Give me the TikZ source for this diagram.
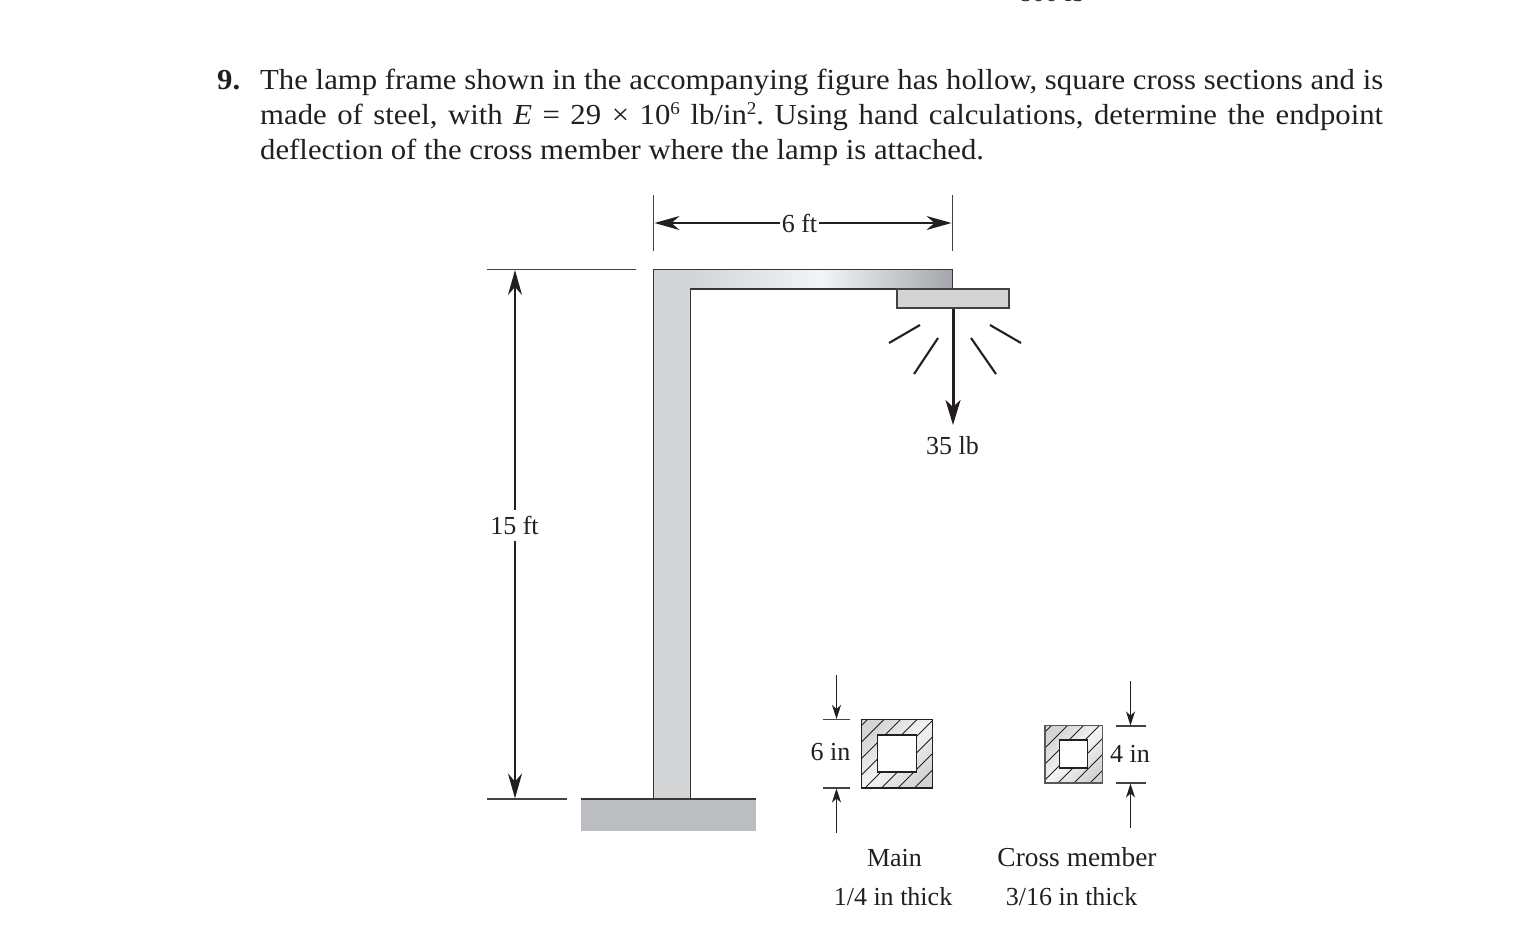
\documentclass[tikz,border=0pt]{standalone}
\usepackage{fontspec}
\setmainfont{Liberation Serif}
\newfontfamily\bodyfam[FakeStretch=1.06]{Liberation Serif}
\usetikzlibrary{arrows.meta}
\newcommand{\bodyfont}{\bodyfam\fontsize{29}{35}\selectfont\frenchspacing}
\newcommand{\labelfont}{\fontsize{26}{30}\selectfont}
\definecolor{colfill}{RGB}{211,212,214}
\definecolor{basefill}{RGB}{188,189,193}
\definecolor{inkline}{RGB}{35,31,32}
\definecolor{armdark}{RGB}{165,166,171}
\definecolor{armlight}{RGB}{243,244,245}
\tikzset{
  x=1pt,y=-1pt,
  txt/.style={inner sep=0pt,font=\labelfont,text=inkline},
  para/.style={inner sep=0pt,anchor=base west,font=\bodyfont,text=inkline},
  dimline/.style={draw=inkline,line width=1.5pt,-{Stealth[length=25pt,width=14pt,inset=8pt]}},
  dimhead/.style={draw=inkline,line width=1.5pt,-{Stealth[length=14pt,width=9pt,inset=4pt]}},
  ext/.style={draw=inkline!85,line width=1.2pt},
  outline/.style={draw=inkline!90,line width=1.8pt},
  ray/.style={draw=inkline,line width=2.1pt},
  hatchline/.style={draw=inkline,line width=0.75pt},
}
\begin{document}
\begin{tikzpicture}
\useasboundingbox (0,0) rectangle (1536,952);
\begin{scope}
\clip (0,0) rectangle (1536,952);
\node[txt,anchor=base] (cut) at (1052,2) {800 lb};
\end{scope}
% paragraph
\node[para,font=\bodyfont\bfseries] (num) at (217,89.5) {9.};
\node[para] (l1) at (260,89.5) {\hbox to 1123pt{The lamp frame shown in the accompanying figure has hollow, square cross sections and is}};
\node[para] (l2) at (260,124.5) {\hbox to 1123pt{made of steel, with \emph{E} = 29 × 10\raisebox{10pt}{\fontsize{18}{18}\selectfont 6} lb/in\raisebox{10pt}{\fontsize{18}{18}\selectfont 2}. Using hand calculations, determine the endpoint}};
\node[para] (l3) at (260,159.5) {deflection of the cross member where the lamp is attached.};
% frame
\fill[colfill] (653.5,269.5) rectangle (690.5,799);
\shade[left color=colfill,right color=armdark,middle color=armlight] (690.5,269.5) rectangle (952.5,289);
\coordinate (ftl) at (653.5,269.5);
\coordinate (ftr) at (952.5,269.5);
\coordinate (fbr) at (952.5,289);
\coordinate (fil) at (690.5,289);
\coordinate (fib) at (690.5,799);
\coordinate (fbl) at (653.5,799);
\draw[outline] (fbl) -- (ftl) -- (ftr) -- (fbr) -- (fil) -- (fib);
% base
\fill[basefill] (581,799) rectangle (756,831);
\coordinate (bl) at (581,799);
\coordinate (br) at (756,799);
\draw[outline] (bl) -- (br);
% lamp
\node[draw=inkline!85,line width=1.2pt,fill=colfill,minimum width=112pt,minimum height=19pt,inner sep=0pt] (lamp) at (953,298.5) {};
\coordinate (loadend) at (953,425);
\draw[draw=inkline,line width=3pt,-{Stealth[length=25pt,width=15pt,inset=7pt]}] (lamp.south -| loadend) -- (loadend);
\coordinate (r1a) at (920,325); \coordinate (r1b) at (889,343);
\coordinate (r2a) at (938,338); \coordinate (r2b) at (914,374);
\coordinate (r3a) at (971,338); \coordinate (r3b) at (996,374);
\coordinate (r4a) at (990,325); \coordinate (r4b) at (1021,343);
\draw[ray] (r1a) -- (r1b);
\draw[ray] (r2a) -- (r2b);
\draw[ray] (r3a) -- (r3b);
\draw[ray] (r4a) -- (r4b);
\node[txt] (load) at (952.5,445.5) {35 lb};
% 6 ft dimension
\coordinate (a1) at (653.5,195); \coordinate (a2) at (653.5,251);
\coordinate (b1) at (952.5,195); \coordinate (b2) at (952.5,251);
\draw[ext] (a1) -- (a2);
\draw[ext] (b1) -- (b2);
\node[txt,fill=white,inner xsep=2pt] (six) at (799.5,223.5) {6 ft};
\coordinate (da) at (654.5,223) ; \coordinate (db) at (951.5,223);
\draw[dimline] (six.west |- da) -- (da);
\draw[dimline] (six.east |- db) -- (db);
% 15 ft dimension
\coordinate (c1) at (487,269.5); \coordinate (c2) at (636,269.5);
\coordinate (d1) at (487,799); \coordinate (d2) at (567,799);
\draw[ext] (c1) -- (c2);
\draw[ext] (d1) -- (d2);
\node[txt,fill=white,inner xsep=1pt,inner ysep=6pt] (fif) at (514.5,525.5) {15 ft};
\coordinate (ua) at (515,270); \coordinate (ub) at (515,798.5);
\draw[dimline] (fif.north -| ua) -- (ua);
\draw[dimline] (fif.south -| ub) -- (ub);
% main section
\shade[left color=colfill,right color=colfill,middle color=armlight,shading angle=45] (861.5,719.5) rectangle (932.5,788);
\begin{scope}
\clip (861.5,719.5) rectangle (932.5,788);
\foreach \k in {0,...,9} {
  \draw[hatchline] ({792+\k*16.5},{795}) -- ++(90,-90);
}
\end{scope}
\node[draw=inkline,line width=1.3pt,fill=white,minimum width=39pt,minimum height=37pt,inner sep=0pt] (minner) at (897,753.5) {};
\node[draw=inkline,line width=1.3pt,minimum width=71pt,minimum height=68.5pt,inner sep=0pt] (mouter) at (897,753.75) {};
% cross section
\shade[left color=colfill,right color=colfill,middle color=armlight,shading angle=45] (1045,725.5) rectangle (1102.5,783);
\begin{scope}
\clip (1045,725.5) rectangle (1102.5,783);
\foreach \k in {0,...,8} {
  \draw[hatchline] ({987+\k*16},{790}) -- ++(75,-75);
}
\end{scope}
\node[draw=inkline,line width=1.3pt,fill=white,minimum width=28pt,minimum height=28pt,inner sep=0pt] (cinner) at (1073.5,754) {};
\node[draw=inkline!75,line width=1.4pt,minimum width=57.5pt,minimum height=57.5pt,inner sep=0pt] (couter) at (1073.75,754.25) {};
% main section dimension
\coordinate (m1) at (823,719.5); \coordinate (m2) at (850,719.5);
\coordinate (m3) at (823,788); \coordinate (m4) at (850,788);
\draw[ext] (m1) -- (m2);
\draw[ext] (m3) -- (m4);
\coordinate (ma) at (836.5,675); \coordinate (mb) at (836.5,719);
\coordinate (mc) at (836.5,833); \coordinate (md) at (836.5,788.5);
\draw[dimhead] (ma) -- (mb);
\draw[dimhead] (mc) -- (md);
\node[txt] (sixin) at (830.5,752) {6 in};
% cross section dimension
\coordinate (n1) at (1116,726); \coordinate (n2) at (1146,726);
\coordinate (n3) at (1116,783); \coordinate (n4) at (1146,783);
\draw[ext] (n1) -- (n2);
\draw[ext] (n3) -- (n4);
\coordinate (na) at (1130.5,681); \coordinate (nb) at (1130.5,725.5);
\coordinate (nc) at (1130.5,828); \coordinate (nd) at (1130.5,783.5);
\draw[dimhead] (na) -- (nb);
\draw[dimhead] (nc) -- (nd);
\node[txt] (fourin) at (1130,754) {4 in};
% captions
\node[txt] (main) at (894.5,858) {Main};
\node[txt] (mth) at (893,897) {1/4 in thick};
\node[txt,font=\fontsize{27.4}{30}\selectfont] (cm) at (1077,857) {Cross member};
\node[txt] (cth) at (1071.5,897) {3/16 in thick};
\end{tikzpicture}
\end{document}
